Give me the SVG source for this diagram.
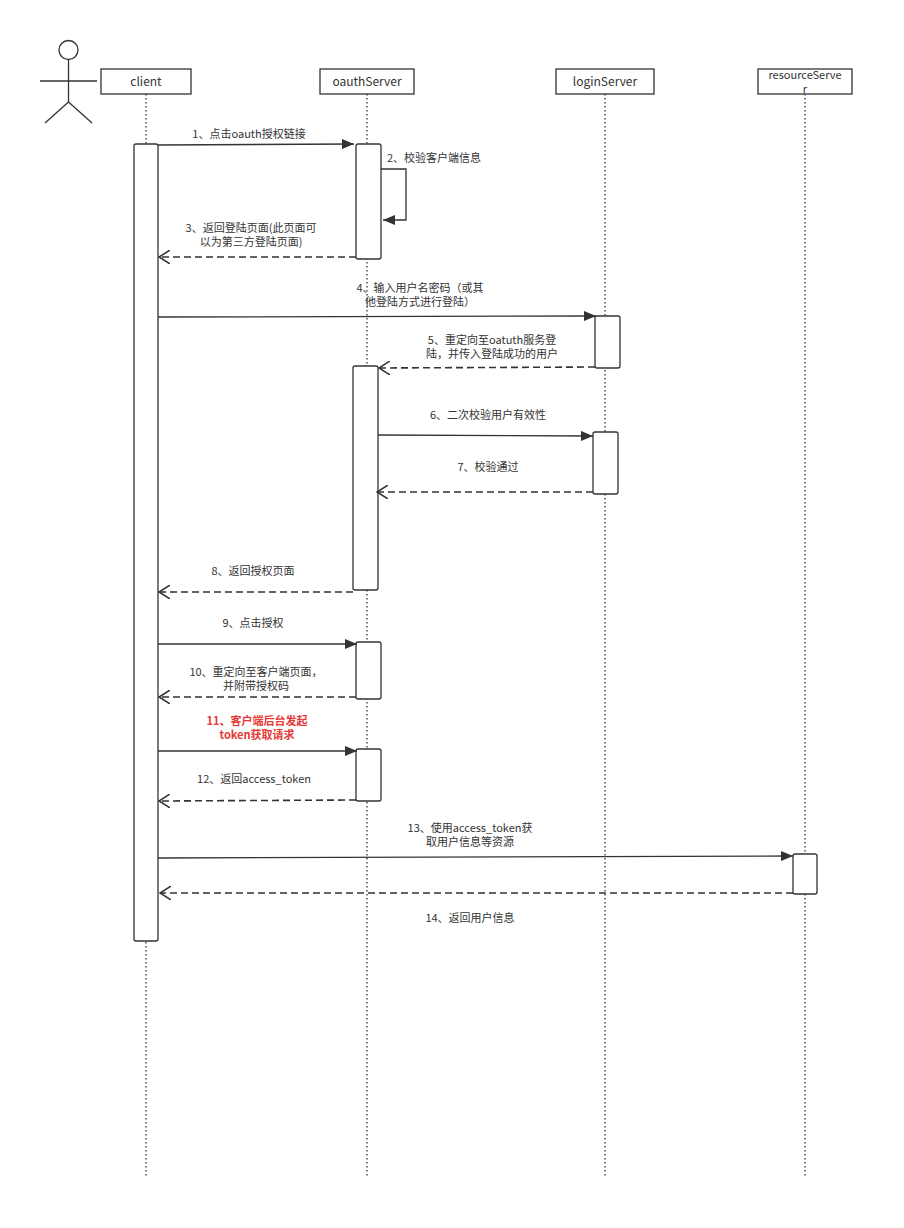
<svg xmlns="http://www.w3.org/2000/svg" width="904" height="1228" viewBox="0 0 904 1228">
<style>
.h{fill:#fff;stroke:#333;stroke-width:1.3}
.life{stroke:#333;stroke-width:1.3;stroke-dasharray:1.5,2.5;fill:none}
.act{fill:#fff;stroke:#333;stroke-width:1.3}
.m{stroke:#333;stroke-width:1.3;fill:none}
.r{stroke:#333;stroke-width:1.6;stroke-dasharray:7,4;fill:none}
text{font-family:"Noto Sans CJK SC","Liberation Sans",sans-serif;font-size:11px;fill:#333;text-anchor:middle}
.t{font-size:12px}
</style>
<defs>
<marker id="a" viewBox="0 0 12 10" refX="12" refY="5" markerWidth="12" markerHeight="10" markerUnits="userSpaceOnUse" orient="auto"><path d="M0,0L12,5L0,10z" fill="#333"/></marker>
<marker id="o" viewBox="0 0 12 14" refX="11" refY="7" markerWidth="12" markerHeight="14" markerUnits="userSpaceOnUse" orient="auto"><path d="M0,0L11,7L0,14" fill="none" stroke="#333" stroke-width="1.5"/></marker>
</defs>
<rect width="904" height="1228" fill="#fff"/>
<g id="actor" class="m"><circle cx="68.5" cy="50" r="9.5"/><line x1="68.5" y1="60" x2="68.5" y2="102"/><line x1="40" y1="81" x2="97" y2="81"/><line x1="68.5" y1="102" x2="45" y2="123"/><line x1="68.5" y1="102" x2="92" y2="123"/></g>
<g id="lifelines">
<line class="life" x1="146" y1="94" x2="146" y2="1178"/>
<line class="life" x1="367" y1="94" x2="367" y2="1178"/>
<line class="life" x1="605" y1="94" x2="605" y2="1178"/>
<line class="life" x1="805" y1="94" x2="805" y2="1178"/>
</g>
<g id="client"><rect class="h" x="101" y="69" width="90" height="25"/><text class="t" x="146" y="86">client</text></g>
<g id="oauthServer"><rect class="h" x="320" y="69" width="94" height="25"/><text class="t" x="367" y="86">oauthServer</text></g>
<g id="loginServer"><rect class="h" x="556" y="69" width="98" height="25"/><text class="t" x="605" y="86">loginServer</text></g>
<g id="resourceServer"><rect class="h" x="758" y="69" width="94" height="25"/><text x="805" y="79">resourceServe</text><text x="805" y="93">r</text></g>
<g id="activations">
<rect class="act" x="134" y="144" width="24" height="797" rx="2"/>
<rect class="act" x="356" y="144" width="25" height="115" rx="2"/>
<rect class="act" x="595" y="316" width="25" height="52" rx="2"/>
<rect class="act" x="353" y="366" width="25" height="224" rx="2"/>
<rect class="act" x="593" y="432" width="25" height="62" rx="2"/>
<rect class="act" x="356" y="642" width="25" height="57" rx="2"/>
<rect class="act" x="356" y="749" width="25" height="52" rx="2"/>
<rect class="act" x="793" y="854" width="24" height="40" rx="2"/>
</g>
<g id="connectors">
<line class="m" x1="158" y1="145" x2="354" y2="144" marker-end="url(#a)"/>
<polyline class="m" points="381,169 406,169 406,220 383,220" marker-end="url(#a)"/>
<line class="r" x1="356" y1="257" x2="159" y2="257" marker-end="url(#o)"/>
<line class="m" x1="158" y1="317" x2="596" y2="316" marker-end="url(#a)"/>
<line class="r" x1="595" y1="367" x2="379" y2="368" marker-end="url(#o)"/>
<line class="m" x1="378" y1="435" x2="593" y2="436" marker-end="url(#a)"/>
<line class="r" x1="593" y1="492" x2="377" y2="492" marker-end="url(#o)"/>
<line class="r" x1="353" y1="592" x2="159" y2="592" marker-end="url(#o)"/>
<line class="m" x1="158" y1="644" x2="357" y2="644" marker-end="url(#a)"/>
<line class="r" x1="356" y1="697" x2="159" y2="697" marker-end="url(#o)"/>
<line class="m" x1="158" y1="751" x2="357" y2="751" marker-end="url(#a)"/>
<line class="r" x1="356" y1="800" x2="159" y2="801" marker-end="url(#o)"/>
<line class="m" x1="158" y1="858" x2="793" y2="856" marker-end="url(#a)"/>
<line class="r" x1="793" y1="893" x2="160" y2="893" marker-end="url(#o)"/>
</g>
<g id="labels">
<text x="249" y="138">1、点击oauth授权链接</text>
<text x="434" y="162">2、校验客户端信息</text>
<text x="251" y="232">3、返回登陆页面(此页面可</text>
<text x="251" y="246">以为第三方登陆页面)</text>
<text x="420" y="292">4、输入用户名密码（或其</text>
<text x="420" y="306">他登陆方式进行登陆）</text>
<text x="492" y="344">5、重定向至oatuth服务登</text>
<text x="492" y="358">陆，并传入登陆成功的用户</text>
<text x="488" y="419">6、二次校验用户有效性</text>
<text x="488" y="471">7、校验通过</text>
<text x="253" y="575">8、返回授权页面</text>
<text x="253" y="627">9、点击授权</text>
<text x="256" y="676">10、重定向至客户端页面，</text>
<text x="256" y="690">并附带授权码</text>
<text x="257" y="725" style="fill:#e53935;font-weight:bold">11、客户端后台发起</text>
<text x="257" y="739" style="fill:#e53935;font-weight:bold">token获取请求</text>
<text x="254" y="783">12、返回access_token</text>
<text x="470" y="832">13、使用access_token获</text>
<text x="470" y="846">取用户信息等资源</text>
<text x="470" y="922">14、返回用户信息</text>
</g>
</svg>
